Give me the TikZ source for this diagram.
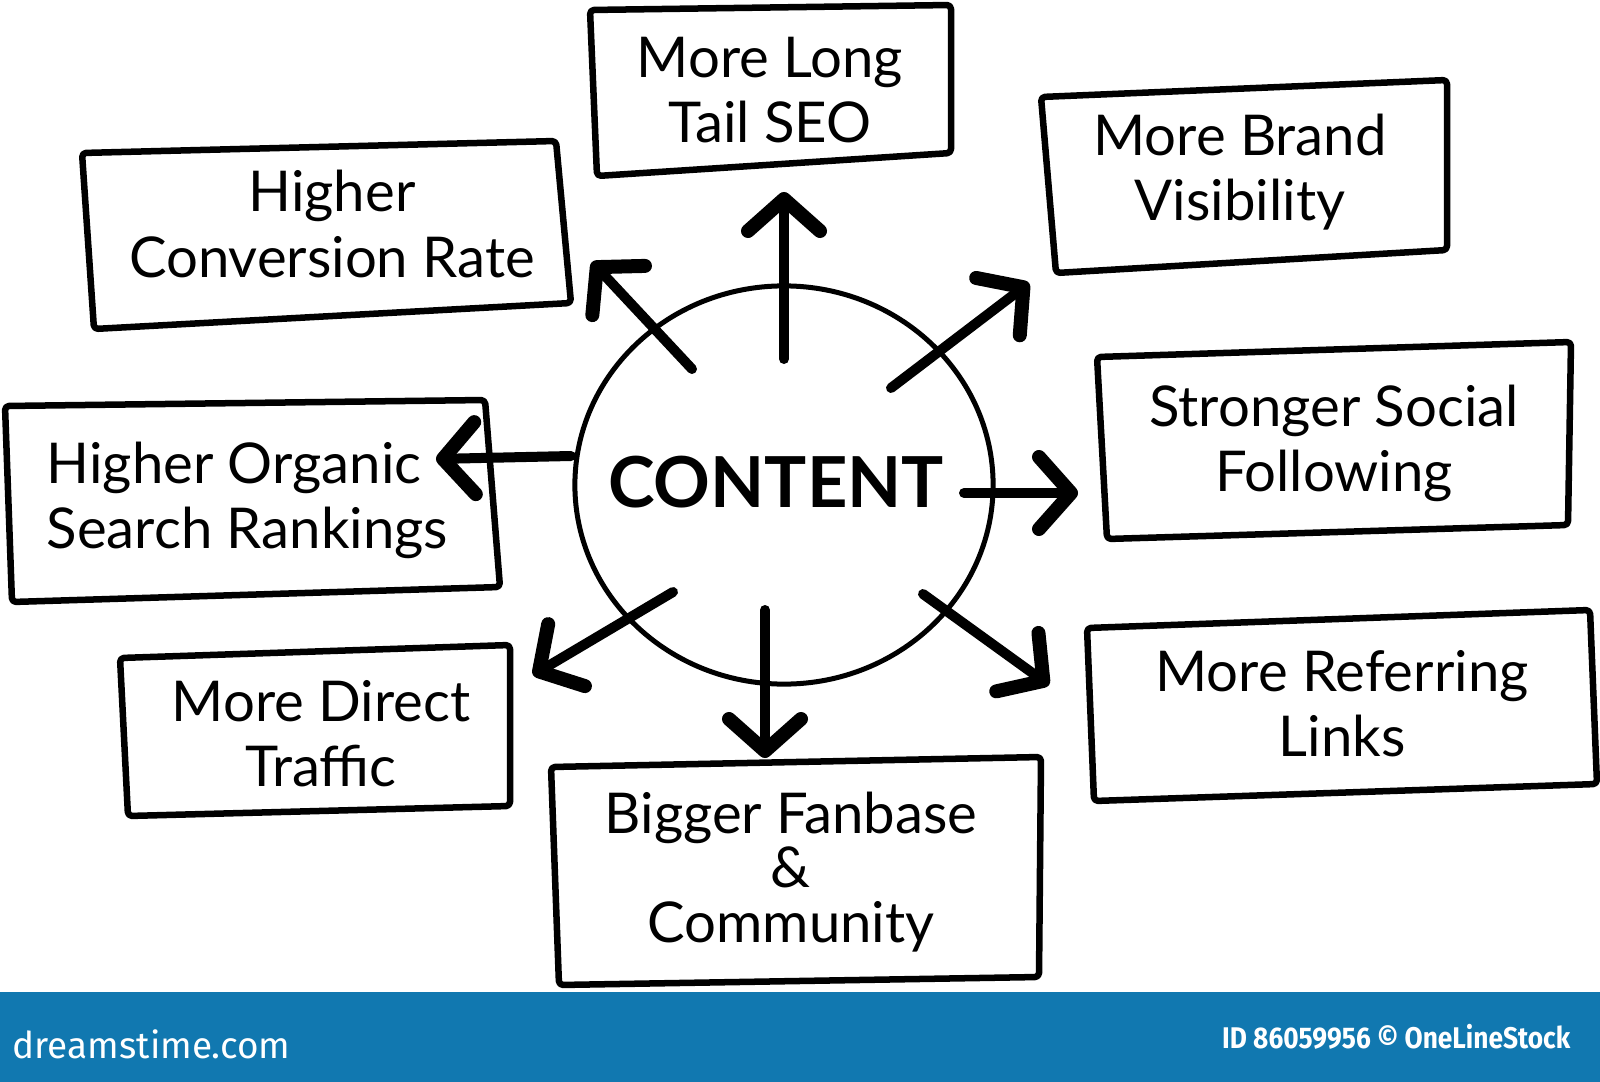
\documentclass[tikz,border=0pt]{standalone}
\usepackage{fontspec}
\usepackage{graphicx}
\setmainfont{Lato}
\newfontfamily\footfont{Fira Sans}
\usetikzlibrary{arrows.meta,shapes.geometric}
\definecolor{footblue}{RGB}{17,120,176}
\begin{document}
\begin{tikzpicture}[x=0.01cm,y=-0.01cm,
  box/.style={line width=0.065cm, line join=round, rounded corners=0.04cm},
  lbl/.style={align=center, font=\fontsize{16}{18.5}\selectfont, inner sep=0pt},
  arr/.style={line width=0.1cm, line cap=round,
    -{Straight Barb[length=0.32cm,width=0.72cm,line width=0.14cm,round]}},
  foot/.style={text=white, inner sep=0pt}
]
\useasboundingbox (0,0) rectangle (1600,1082);
\fill[white] (0,0) rectangle (1600,1082);

% central circle
\node[draw, ellipse, line width=0.05cm, minimum width=4.18cm, minimum height=3.98cm] (circ) at (784,485) {};
\node[font=\bfseries\fontsize{20}{22}\selectfont, inner sep=0pt] (content) at (776,482) {CONTENT};

% boxes
\draw[box] (590,10) -- (951,5) -- (951,153) -- (597,176) -- cycle;
\draw[box] (1041,97) -- (1447,80) -- (1447,250) -- (1056,273) -- cycle;
\draw[box] (82,153) -- (556,141) -- (571,303) -- (94,329) -- cycle;
\draw[box] (1097,357) -- (1571,342) -- (1568,525) -- (1107,539) -- cycle;
\draw[box] (5,406) -- (485,400) -- (500,587) -- (12,602) -- cycle;
\draw[box] (120,658) -- (510,645) -- (510,806) -- (128,816) -- cycle;
\draw[box] (551,767) -- (1041,757) -- (1039,977) -- (559,985) -- cycle;
\draw[box] (1087,628) -- (1590,610) -- (1597,784) -- (1094,801) -- cycle;

% labels
\node[lbl] (seo) at (770,90) {More Long\\Tail SEO};
\node[lbl] (brand) at (1240,172) {More Brand\\Visibility};
\node[lbl] (conv) at (332,224) {Higher\\Conversion Rate};
\node[lbl] (social) at (1334,443) {Stronger Social\\Following};
\node[lbl, align=left, anchor=west] (organic) at (46,500) {Higher Organic\\Search Rankings};
\node[lbl] (direct) at (321,734) {More Direct\\Traffic};
\node[lbl, font=\fontsize{16}{15.5}\selectfont] (fan) at (791,872) {Bigger Fanbase\\\&\\Community};
\node[lbl] (links) at (1342,704) {More Referring\\Links};

% arrow end points
\coordinate (s1) at (784,359); \coordinate (e1) at (784,192);
\coordinate (s2) at (891,388); \coordinate (e2) at (1029,283);
\coordinate (s3) at (964,493); \coordinate (e3) at (1078,493);
\coordinate (s4) at (923,594); \coordinate (e4) at (1049,685);
\coordinate (s5) at (765,610); \coordinate (e5) at (765,758);
\coordinate (s6) at (673,592); \coordinate (e6) at (533,675);
\coordinate (s7) at (571,456); \coordinate (e7) at (436,459);
\coordinate (s8) at (692,369); \coordinate (e8) at (592,262);

\draw[arr] (s1) -- (e1);
\draw[arr] (s2) -- (e2);
\draw[arr] (s3) -- (e3);
\draw[arr] (s4) -- (e4);
\draw[arr] (s5) -- (e5);
\draw[arr] (s6) -- (e6);
\draw[arr] (s7) -- (e7);
\draw[arr] (s8) -- (e8);

% footer
\fill[footblue] (0,992) rectangle (1600,1082);
\node[foot, anchor=west, font=\footfont\fontsize{10.5}{12}\selectfont] (dt) at (12,1044) {dreamstime.com};
\node[foot, anchor=east, font=\footfont\bfseries\fontsize{8.5}{10}\selectfont] (id) at (1571,1037) {\scalebox{0.88}[1]{ID 86059956 © OneLineStock}};
\end{tikzpicture}
\end{document}
